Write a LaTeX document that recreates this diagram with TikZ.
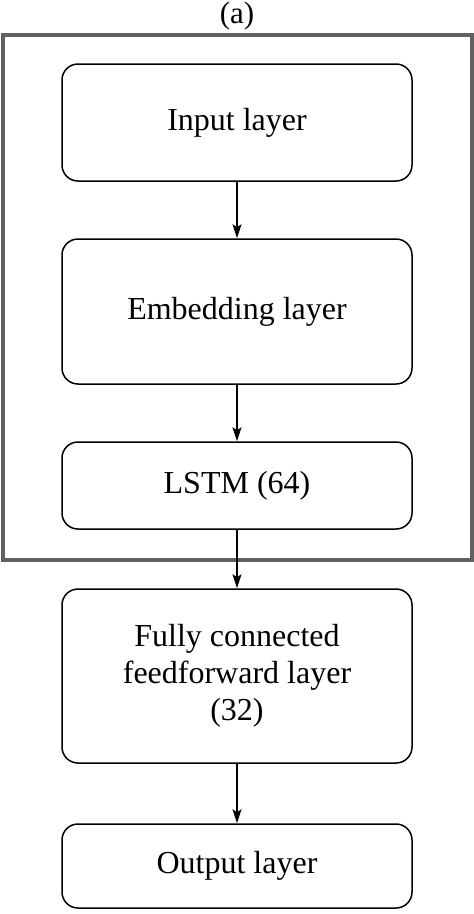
\documentclass[tikz,border=0pt]{standalone}
\usepackage{fontspec}
\setmainfont{Liberation Serif}
\usetikzlibrary{arrows.meta}
\begin{document}
\begin{tikzpicture}[x=1pt,y=-1pt,
  layerbox/.style={draw=black, line width=1.5pt, rounded corners=16pt, minimum width=350pt, align=center, font=\fontsize{32}{37}\selectfont, inner sep=0pt},
  framebox/.style={draw=black!62, line width=4pt, minimum width=469pt, minimum height=525pt, inner sep=0pt},
  conn/.style={line width=1.5pt, -{Stealth[length=14pt,width=9pt,inset=3pt]}}]
\useasboundingbox (0,0) rectangle (474,914);
\node[font=\fontsize{31}{36}\selectfont] (lab) at (237,16) {(a)};
\node[framebox] (frame) at (237.5,297.5) {};
\node[layerbox, minimum height=117pt] (inp) at (237,122.5) {Input layer};
\node[layerbox, minimum height=145pt] (emb) at (237,311.5) {Embedding layer};
\node[layerbox, minimum height=87pt] (lstm) at (237,485.5) {LSTM (64)};
\node[layerbox, minimum height=174pt] (fc) at (237,676) {Fully connected\\feedforward layer\\(32)};
\node[layerbox, minimum height=84pt] (out) at (237,866) {Output layer};
\draw[conn] (inp) -- (emb);
\draw[conn] (emb) -- (lstm);
\draw[conn] (lstm) -- (fc);
\draw[conn] (fc) -- (out);
\end{tikzpicture}
\end{document}
